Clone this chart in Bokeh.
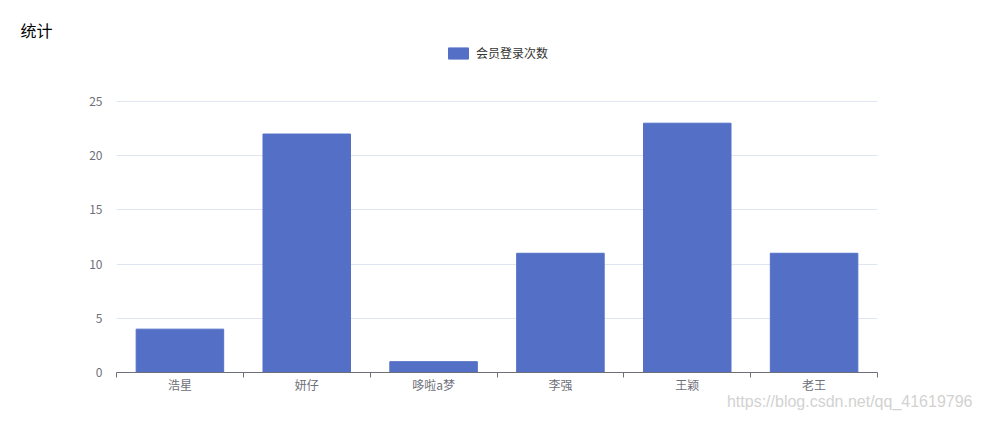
from bokeh.plotting import figure
from bokeh.resources import INLINE
from bokeh.embed import file_html
from bokeh.models import FixedTicker, Legend, LegendItem, Range1d, Title

names = ["浩星", "妍仔", "哆啦a梦", "李强", "王颖", "老王"]
counts = [4, 22, 1, 11, 23, 11]
y_ticks = [0, 5, 10, 15, 20, 25]
series_name = "会员登录次数"
chart_title = "统计"
watermark = "https://blog.csdn.net/qq_41619796"

FONT = "Noto Sans CJK SC"
xs = [i + 0.5 for i in range(len(names))]

# the frame reaches up to the legend; 25 stays the top tick
p = figure(width=974, height=420, output_backend="svg", toolbar_location=None,
           title=None, x_range=Range1d(0, len(names)), y_range=Range1d(0, 30.63),
           min_border_left=116, min_border_right=97, min_border_top=40,
           min_border_bottom=48)
p.outline_line_color = None
p.background_fill_color = "white"
p.border_fill_color = "white"

bars = p.vbar(x=xs, top=counts, width=0.69, color="#5470c6")

# x axis: labels at centres, ticks at category boundaries
p.xaxis.ticker = FixedTicker(ticks=xs, minor_ticks=list(range(len(names) + 1)))
p.xaxis.major_label_overrides = {x: n for x, n in zip(xs, names)}
p.xaxis.major_tick_out = 0
p.xaxis.major_tick_in = 0
p.xaxis.minor_tick_out = 5
p.xaxis.minor_tick_in = 0
p.xaxis.minor_tick_line_color = "#6e7079"
p.xaxis.axis_line_color = "#6e7079"
p.xaxis.major_label_text_color = "#6e7079"
p.xaxis.major_label_text_font = FONT
p.xaxis.major_label_text_font_size = "12px"
p.xaxis.major_label_standoff = -2
p.xgrid.grid_line_color = None

p.yaxis.ticker = FixedTicker(ticks=y_ticks, minor_ticks=[])
p.yaxis.axis_line_color = None
p.yaxis.major_tick_line_color = None
p.yaxis.major_label_text_color = "#6e7079"
p.yaxis.major_label_text_font = FONT
p.yaxis.major_label_text_font_size = "12px"
p.yaxis.major_label_standoff = 8
p.ygrid.grid_line_color = "#e0e6f1"

legend = Legend(items=[LegendItem(label=series_name, renderers=[bars])],
                location="top_center", orientation="horizontal",
                label_text_font=FONT, label_text_font_size="12px",
                label_text_color="#333333", glyph_width=25, glyph_height=14,
                label_height=14, border_line_color=None, background_fill_alpha=0,
                padding=0, margin=4, label_standoff=6)
p.add_layout(legend)

p.add_layout(Title(text=chart_title, text_font=FONT, text_font_size="16px",
                   text_font_style="normal", text_color="#000000",
                   align="left", offset=-96, standoff=-2), "above")

p.add_layout(Title(text=watermark, text_font="Liberation Sans", text_font_size="16px",
                   text_font_style="normal", text_color="#d2d2d2",
                   align="right", offset=-95, standoff=-9), "below")

open("out.html", "w").write(file_html(p, INLINE))
